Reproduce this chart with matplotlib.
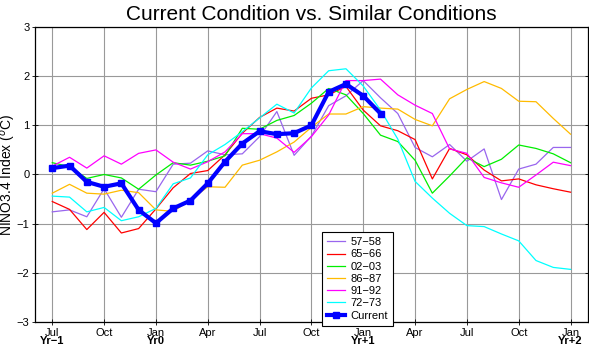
import matplotlib
matplotlib.use("Agg")
import matplotlib.pyplot as plt
import matplotlib.transforms as mtransforms

plt.rcParams['font.family'] = ['Liberation Sans', 'DejaVu Sans']

# months since Jul of Yr-1
months = list(range(31))
tick_pos = [0, 3, 6, 9, 12, 15, 18, 21, 24, 27, 30]
tick_labels = ['Jul', 'Oct', 'Jan', 'Apr', 'Jul', 'Oct', 'Jan', 'Apr', 'Jul', 'Oct', 'Jan']
year_pos = [0, 6, 18, 30]
year_labels = ['Yr\u22121', 'Yr0', 'Yr+1', 'Yr+2']

y5758 = [-0.76, -0.72, -0.86, -0.29, -0.87, -0.30, -0.35, 0.21, 0.23, 0.48, 0.40,
         0.42, 0.77, 1.28, 0.39, 0.78, 1.40, 1.60, 1.91, 1.56, 1.24, 0.55, 0.36,
         0.61, 0.27, 0.52, -0.51, 0.11, 0.21, 0.55, 0.55]
y6566 = [-0.55, -0.71, -1.12, -0.77, -1.19, -1.10, -0.70, -0.27, 0.02, 0.08, 0.40,
         0.84, 1.16, 1.35, 1.29, 1.55, 1.62, 1.79, 1.31, 0.99, 0.89, 0.71, -0.09,
         0.53, 0.40, 0.09, -0.13, -0.09, -0.21, -0.29, -0.36]
y0203 = [0.24, 0.16, -0.08, 0.00, -0.07, -0.30, -0.01, 0.24, 0.19, 0.27, 0.38,
         0.94, 0.92, 1.10, 1.20, 1.45, 1.75, 1.62, 1.24, 0.80, 0.67, 0.29, -0.38,
         -0.03, 0.34, 0.16, 0.31, 0.60, 0.53, 0.42, 0.24]
y8687 = [-0.38, -0.20, -0.38, -0.40, -0.32, -0.37, -0.72, -0.75, -0.52, -0.25, -0.26,
         0.19, 0.29, 0.46, 0.66, 0.96, 1.23, 1.23, 1.38, 1.35, 1.33, 1.12, 0.99,
         1.54, 1.73, 1.89, 1.75, 1.49, 1.48, 1.14, 0.82]
y9192 = [0.17, 0.35, 0.13, 0.38, 0.21, 0.43, 0.50, 0.25, 0.11, 0.26, 0.46,
         0.83, 0.83, 0.74, 0.45, 0.77, 1.21, 1.91, 1.91, 1.94, 1.62, 1.41, 1.24,
         0.52, 0.43, -0.06, -0.17, -0.26, -0.01, 0.25, 0.18]
y7273 = [-0.44, -0.46, -0.76, -0.67, -0.94, -0.86, -0.69, -0.19, -0.07, 0.40, 0.61,
         0.87, 1.15, 1.43, 1.25, 1.76, 2.11, 2.15, 1.80, 1.31, 0.72, -0.14, -0.48,
         -0.79, -1.04, -1.06, -1.21, -1.35, -1.75, -1.89, -1.93]
current = [0.13, 0.18, -0.15, -0.25, -0.18, -0.72, -0.99, -0.69, -0.53, -0.18, 0.26,
           0.63, 0.88, 0.82, 0.84, 1.00, 1.68, 1.84, 1.60, 1.24]

series = [
    ('57\u221258', y5758, '#9966ee'),
    ('65\u221266', y6566, '#ff0000'),
    ('02\u221203', y0203, '#00ee00'),
    ('86\u221287', y8687, '#ffbb00'),
    ('91\u221292', y9192, '#ff00ff'),
    ('72\u221273', y7273, '#00ffff'),
]

fig = plt.figure(figsize=(5.89, 3.46), dpi=100)
ax = fig.add_axes([0.0594, 0.0694, 0.9386, 0.8526])

for name, vals, col in series:
    ax.plot(months, vals, color=col, lw=0.9, label=name)
ax.plot(months[:len(current)], current, color='#0000ff', lw=3, marker='s',
        markersize=4.5, label='Current')

ax.set_xlim(-1, 31)
ax.set_ylim(-3, 3)
ax.set_yticks([-3, -2, -1, 0, 1, 2, 3])
ax.set_yticklabels(['\u22123', '\u22122', '\u22121', '0', '1', '2', '3'])
ax.set_xticks(tick_pos)
ax.set_xticklabels(tick_labels)
ax.tick_params(labelsize=8, direction='inout', length=4, width=0.6,
               right=True, top=False, pad=2)
ax.grid(True, color='#999999', lw=0.8)
for s in ax.spines.values():
    s.set_linewidth(0.9)

trans = mtransforms.blended_transform_factory(ax.transData, ax.transAxes)
for xp, lab in zip(year_pos, year_labels):
    ax.text(xp, -0.048, lab, transform=trans, ha='center', va='top',
            fontsize=8, fontweight='bold')

# y label placed by hand, close to the left edge like the original
fig.text(8.5 / 589, 0.4957, 'NINO3.4 Index ($^o$C)', rotation=90,
         ha='center', va='center', fontsize=10)
ax.set_title('Current Condition vs. Similar Conditions', fontsize=15, pad=5)

leg = ax.legend(loc='lower left', bbox_to_anchor=(0.519, -0.012), fontsize=8,
                frameon=True, fancybox=False, edgecolor='black', framealpha=1,
                borderaxespad=0, handlelength=1.6, labelspacing=0.2,
                borderpad=0.45, handletextpad=0.5)
leg.get_frame().set_linewidth(0.8)

fig.savefig('out.png', dpi=100)
